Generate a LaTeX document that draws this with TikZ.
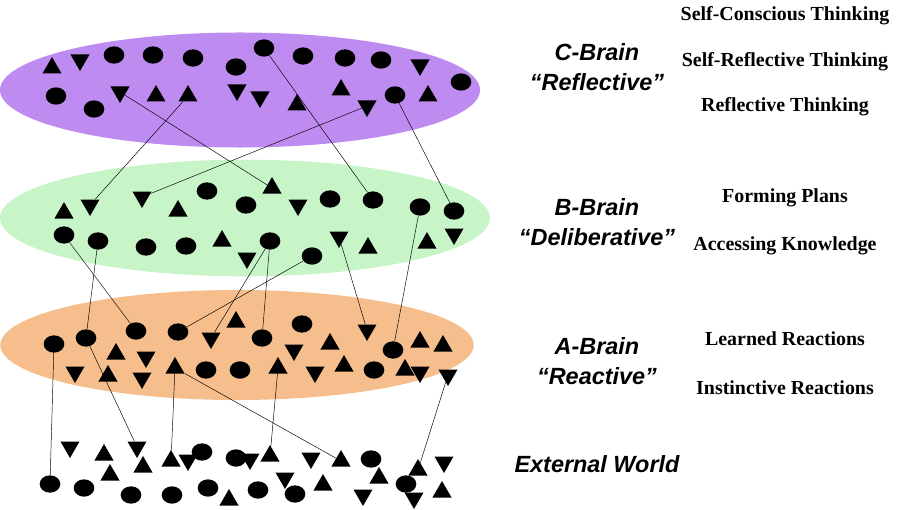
\documentclass[tikz,border=0pt]{standalone}
\usepackage{fontspec}
\setmainfont{Liberation Serif}
\newfontfamily\brainfont{Liberation Sans}
\usetikzlibrary{shapes.geometric}
\definecolor{cbrain}{RGB}{190,140,240}
\definecolor{bbrain}{RGB}{200,245,200}
\definecolor{abrain}{RGB}{245,190,140}

\begin{document}
\begin{tikzpicture}[
    x = 0.03cm, y = -0.03cm,
    layer/.style = {ellipse, draw=none, inner sep=0pt},
    dot/.style = {ellipse, fill=black, inner sep=0pt, minimum width=0.62cm, minimum height=0.52cm},
    up/.style = {regular polygon, regular polygon sides=3, fill=black, inner sep=0pt, minimum size=0.66cm},
    down/.style = {up, shape border rotate=180},
    brain/.style = {font=\brainfont\bfseries\itshape\fontsize{20}{25}\selectfont, align=center},
    think/.style = {font=\bfseries\fontsize{17}{20}\selectfont}
]
\useasboundingbox (0,0) rectangle (902,510);

% Layers
    \node[layer, fill=cbrain, minimum width=14.4cm, minimum height=3.45cm] (cl) at (240,90) {};
    \node[layer, fill=bbrain, minimum width=14.7cm, minimum height=3.5cm] (bl) at (245,218) {};
    \node[layer, fill=abrain, minimum width=14.2cm, minimum height=3.3cm] (al) at (237,345) {};

% C-Brain
    \foreach \p [count=\i] in {(114,55),(153,55),(193,58),(236,67),(264,48),(303,56),(345,58),(381,60),(461,82),(56,96),(94,109),(395,95)}
        \node[dot] (pc\i) at \p {};
    \foreach \p [count=\i] in {(52,68),(156,96),(188,96),(297,105),(341,90),(428,96)}
        \node[up] (pu\i) at \p {};
    \foreach \p [count=\i] in {(80,60),(120,92),(237,90),(260,97),(420,65),(367,106)}
        \node[down] (pd\i) at \p {};

% B-Brain
    \foreach \p [count=\i] in {(207,191),(246,205),(330,199),(373,200),(420,207),(454,211),(64,235),(98,241),(146,247),(186,246),(270,241),(312,256)}
        \node[dot] (gc\i) at \p {};
    \foreach \p [count=\i] in {(64,213),(178,211),(272,188),(222,241),(368,248),(427,243)}
        \node[up] (gu\i) at \p {};
    \foreach \p [count=\i] in {(90,205),(142,197),(298,205),(247,258),(339,237),(454,234)}
        \node[down] (gd\i) at \p {};

% A-Brain
    \foreach \p [count=\i] in {(54,344),(86,338),(136,331),(178,332),(262,338),(302,324),(393,350),(374,370),(206,370),(240,370)}
        \node[dot] (oc\i) at \p {};
    \foreach \p [count=\i] in {(236,322),(116,354),(108,376),(175,368),(344,366),(420,342),(443,346),(330,344),(278,368),(405,370)}
        \node[up] (ou\i) at \p {};
    \foreach \p [count=\i] in {(211,338),(146,357),(75,372),(142,378),(294,350),(315,372),(448,375),(420,372),(367,330)}
        \node[down] (od\i) at \p {};

% External World
    \foreach \p [count=\i] in {(50,484),(84,488),(131,495),(172,495),(202,452),(236,458),(258,490),(295,494),(371,459),(406,484),(208,488)}
        \node[dot] (ec\i) at \p {};
    \foreach \p [count=\i] in {(104,455),(110,475),(143,467),(171,461),(229,500),(270,456),(341,461),(323,485),(379,478),(418,470),(442,492)}
        \node[up] (eu\i) at \p {};
    \foreach \p [count=\i] in {(70,447),(137,447),(188,460),(250,459),(311,458),(285,478),(363,495),(444,462),(414,498)}
        \node[down] (ed\i) at \p {};

% Links
    \draw (pc5) -- (gc4);
    \draw (pc12) -- (gc6);
    \draw (pd6) -- (gd2);
    \draw (pu3) -- (gd1);
    \draw (pd2) -- (gu3);
    \draw (gc7) -- (oc3);
    \draw (gc8) -- (oc2);
    \draw (gc11) -- (oc5);
    \draw (gc11) -- (od1);
    \draw (gc12) -- (oc4);
    \draw (gd5) -- (od9);
    \draw (gc5) -- (oc7);
    \draw (oc1) -- (ec1);
    \draw (oc2) -- (ed2);
    \draw (ou4) -- (eu4);
    \draw (ou4) -- (eu7);
    \draw (ou9) -- (eu6);
    \draw (od7) -- (eu10);

% Labels
    \node[brain] (cname) at (597,67) {C-Brain\\“Reflective”};
    \node[brain] (bname) at (597,222) {B-Brain\\“Deliberative”};
    \node[brain] (aname) at (597,361) {A-Brain\\“Reactive”};
    \node[brain] (ename) at (597,464) {External World};
    \node[think] (t1) at (785,16) {Self-Conscious Thinking};
    \node[think] (t2) at (785,62) {Self-Reflective Thinking};
    \node[think] (t3) at (785,107) {Reflective Thinking};
    \node[think] (t4) at (785,198) {Forming Plans};
    \node[think] (t5) at (785,246) {Accessing Knowledge};
    \node[think] (t6) at (785,339) {Learned Reactions};
    \node[think] (t7) at (785,388) {Instinctive Reactions};
\end{tikzpicture}
\end{document}
